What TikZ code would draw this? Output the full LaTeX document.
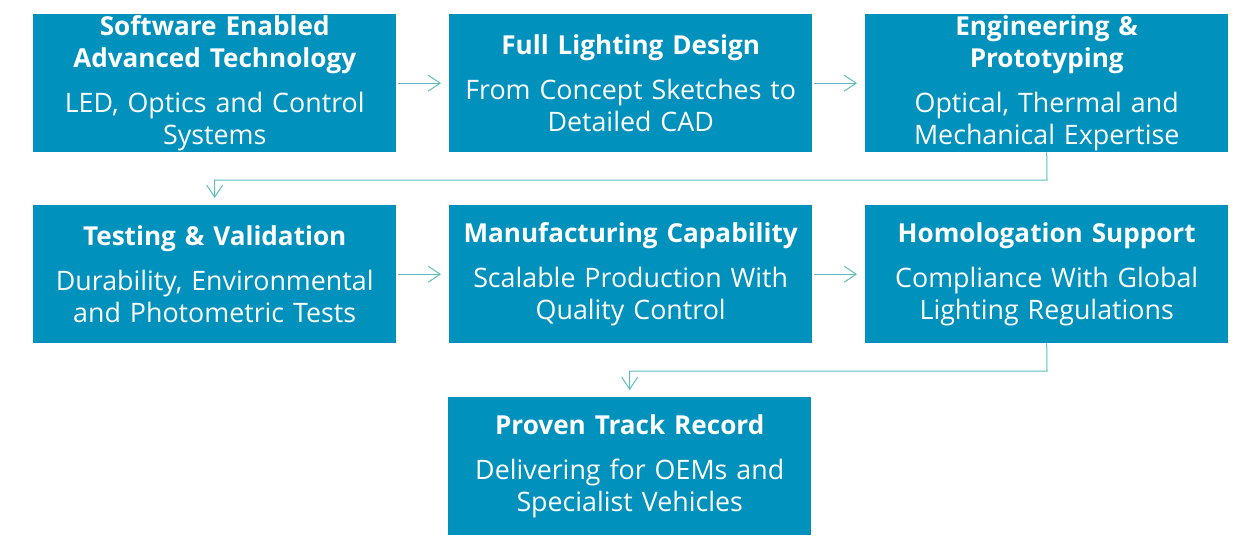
\documentclass[tikz,border=0pt]{standalone}
\usepackage{fontspec}
\setmainfont{Open Sans}
\usetikzlibrary{arrows.meta}
\definecolor{boxblue}{HTML}{0091BD}
\definecolor{lineteal}{HTML}{5BBDBD}
\newcommand{\ttl}[1]{{\fontsize{26.1}{32}\selectfont\bfseries #1}}
\tikzset{
  box/.style={fill=boxblue, text=white, minimum width=363pt, minimum height=138pt, inner sep=0pt, text width=360pt, align=center, anchor=north west, font=\fontsize{26.8}{32}\selectfont},
  conn/.style={draw=lineteal, line width=1pt, -{Straight Barb[length=12pt,width=16pt,line width=1pt]}},
}
\begin{document}
\begin{tikzpicture}[x=1pt,y=-1pt]
\useasboundingbox (0,0) rectangle (1260,539);
\node[box] (b1) at (33,14) {\ttl{Software Enabled}\\\ttl{Advanced Technology}\\[13pt]LED, Optics and Control\\Systems};
\node[box] (b2) at (449,14) {\ttl{Full Lighting Design}\\[13pt]From Concept Sketches to\\Detailed CAD};
\node[box] (b3) at (865,14) {\ttl{Engineering \&}\\\ttl{Prototyping}\\[13pt]Optical, Thermal and\\Mechanical Expertise};
\node[box] (b4) at (33,205) {\ttl{Testing \& Validation}\\[13pt]Durability, Environmental\\and Photometric Tests};
\node[box] (b5) at (449,205) {\ttl{Manufacturing Capability}\\[13pt]Scalable Production With\\Quality Control};
\node[box] (b6) at (865,205) {\ttl{Homologation Support}\\[13pt]Compliance With Global\\Lighting Regulations};
\node[box] (b7) at (448,397) {\ttl{Proven Track Record}\\[13pt]Delivering for OEMs and\\Specialist Vehicles};
\coordinate (m1) at (1047,180);
\coordinate (m2) at (1047,371);
\draw[conn, shorten <=2pt, shorten >=8pt] (b1.east) -- (b2.west);
\draw[conn, shorten <=2pt, shorten >=8pt] (b2.east) -- (b3.west);
\draw[conn, shorten <=2pt, shorten >=8pt] (b4.east) -- (b5.west);
\draw[conn, shorten <=2pt, shorten >=8pt] (b5.east) -- (b6.west);
\draw[conn, shorten >=7pt] (b3.south) -- (m1) -| (b4.north);
\draw[conn, shorten >=7pt] (b6.south) -- (m2) -| (b7.north);
\end{tikzpicture}
\end{document}
